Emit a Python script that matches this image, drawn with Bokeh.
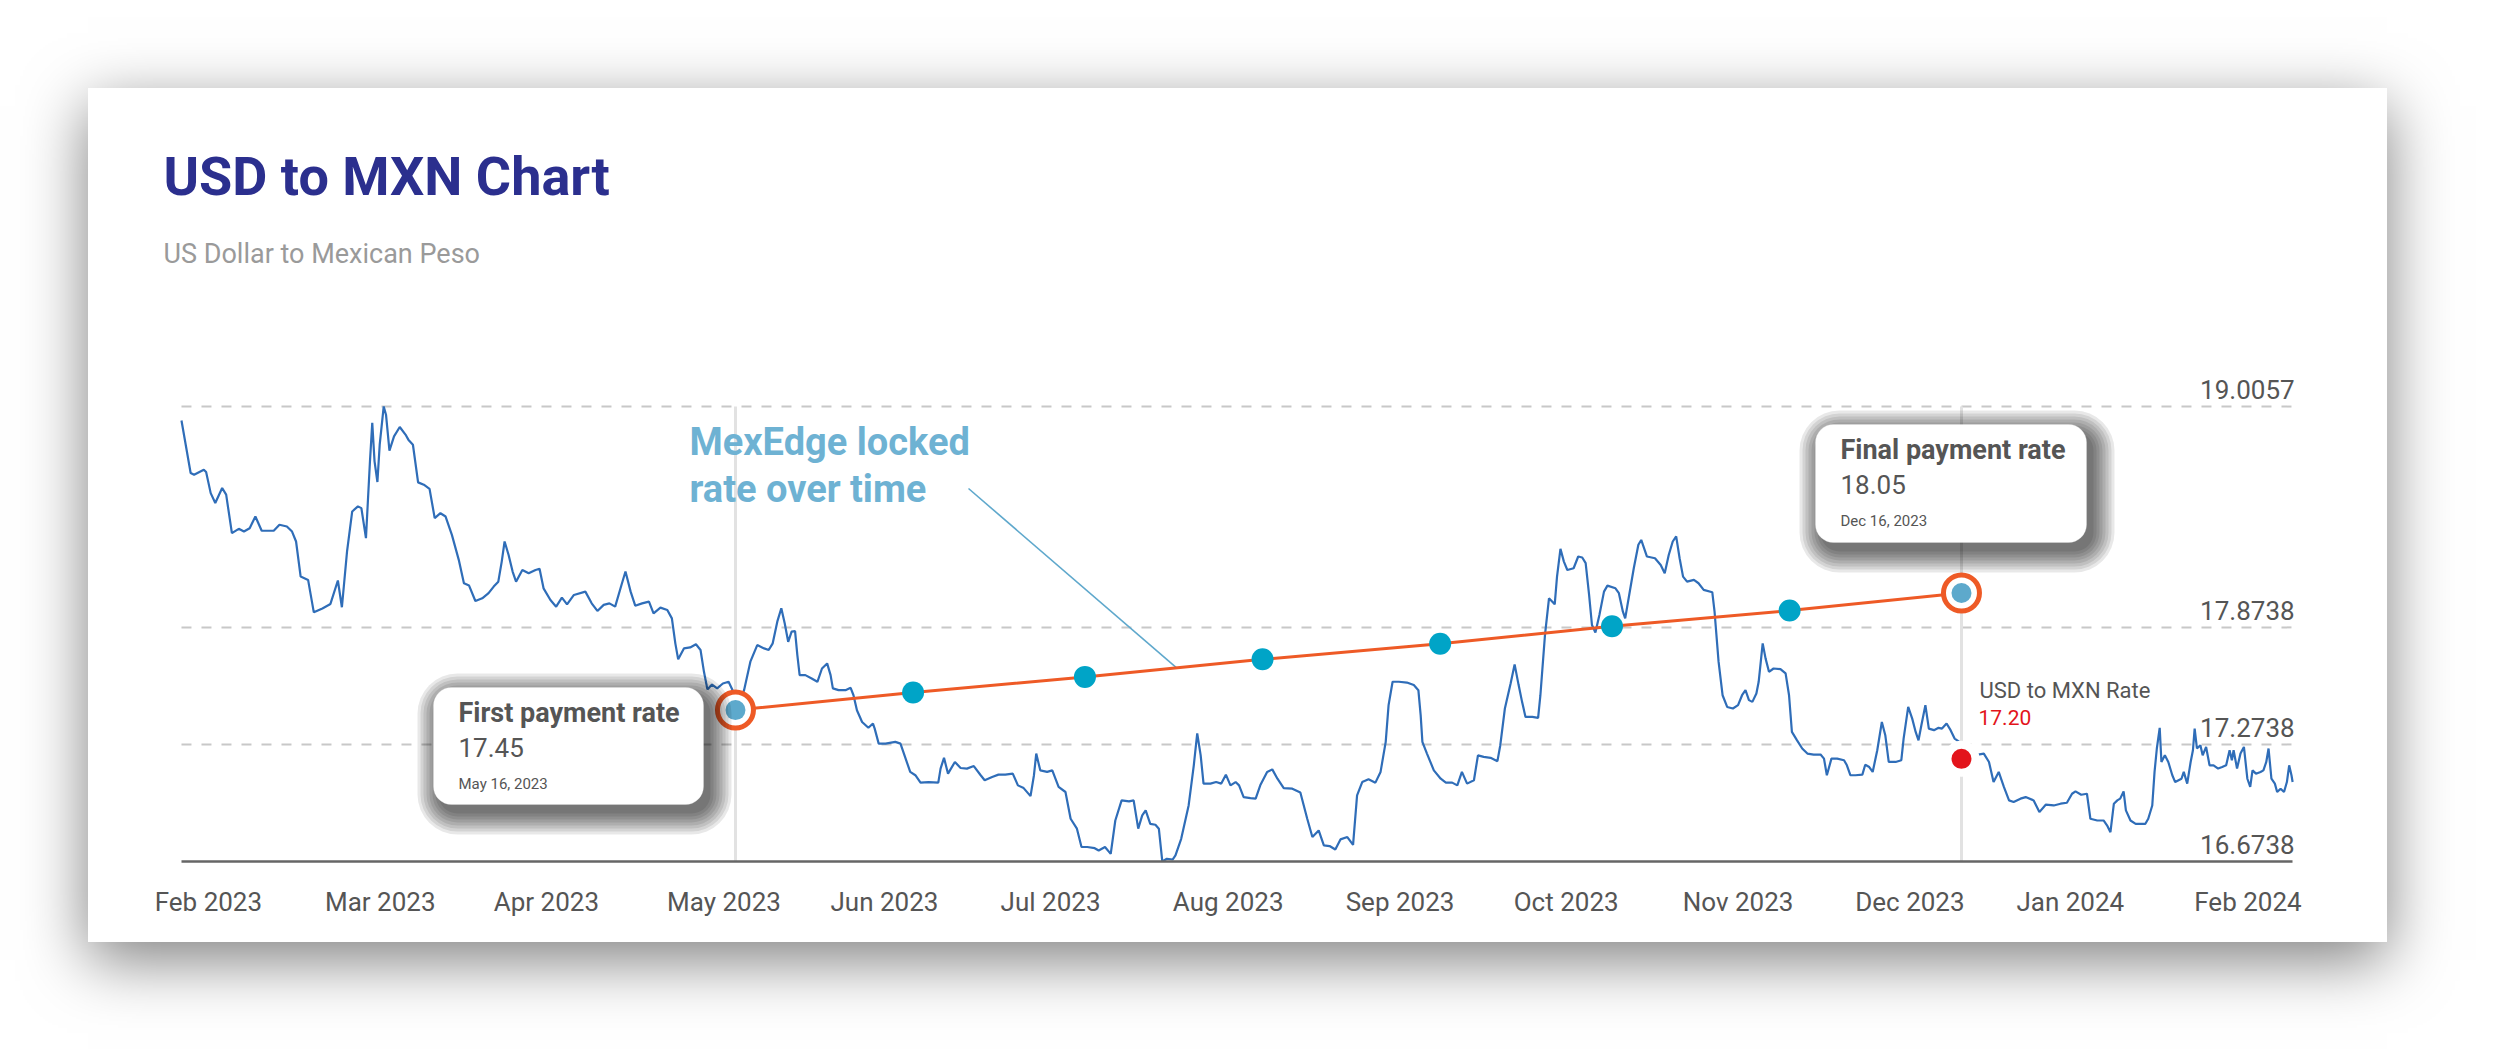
import numpy as np
from bokeh.plotting import figure
from bokeh.models import Range1d, FixedTicker, BoxAnnotation, Label
from bokeh.core.properties import value
from bokeh.embed import file_html
from bokeh.resources import INLINE

# ---------------- data (days counted from 2023-02-01) ----------------
days = [7.3, 8.9, 9.5, 11.2, 11.6, 12.4, 13.2, 14.4, 15.1, 16.1, 17.3, 18.2, 19.2, 20.2, 21.3, 23.4,
        24.4, 25.7, 26.6, 27.3, 28.1, 29.4, 30.4, 31.9, 33.3, 34.6, 35.3, 36.2, 37.1, 38.1, 38.7, 39.5,
        40.2, 40.6, 41.0, 41.5, 41.9, 42.6, 43.0, 43.6, 44.4, 45.4, 46.4, 46.9, 47.7, 48.6, 49.6, 50.6,
        51.5, 52.5, 53.4, 54.5, 55.7, 56.6, 57.5, 58.6, 59.8, 60.9, 61.8, 62.6, 63.2, 63.7, 64.4, 65.1,
        65.7, 66.8, 67.9,
        69.1, 69.8, 70.5, 71.7, 72.7, 73.7, 74.6, 75.8, 77.8, 78.9, 79.9, 81.0, 82.0, 83.0, 84.1, 84.8,
        85.7, 86.5, 87.7, 88.9, 89.7, 90.9, 92.1, 92.9, 93.5, 94.0, 95.0, 96.1, 97.1, 97.9, 98.5, 99.1,
        99.9, 100.8, 101.8, 102.8, 103.5, 104.6, 105.5, 106.6, 107.8, 109.0, 109.8, 110.5, 111.3, 112.0,
        112.6, 113.2, 113.8, 114.4, 114.8, 115.2, 116.2, 117.3, 118.3, 119.1, 120.0, 120.6, 121.0, 122.0,
        123.2, 124.1, 124.6, 125.2, 126.1, 127.2, 128.0, 128.3, 129.0, 130.2,
        131.9, 132.8, 133.7, 134.5, 135.4, 136.3, 137.7, 139.4, 139.8, 140.4, 141.1, 142.3, 143.3, 144.4,
        145.6, 146.8, 147.5, 148.8, 149.9, 151.1, 152.4, 153.3, 154.3, 155.5, 156.1, 156.5, 157.2, 158.4,
        159.3, 160.4, 161.6, 162.5, 163.6, 164.4, 165.4, 166.7, 167.4, 168.5, 169.5, 170.3, 171.4, 172.7,
        173.5, 174.3, 175.0, 175.6, 176.4, 177.3, 177.9, 178.5, 179.3, 180.3, 180.8, 181.8, 183.1, 184.0,
        184.6, 185.2, 185.7, 186.9, 187.9, 188.8, 189.6, 190.4, 191.3, 191.9, 192.7, 193.9,
        194.8, 195.6, 196.8, 197.7, 198.6, 199.7, 201.2, 202.6, 203.8, 204.7, 205.8, 206.7, 207.7, 208.7,
        209.6, 210.8, 211.8, 212.5, 213.4, 214.5, 215.7, 216.6, 217.5, 218.0, 218.7, 219.8, 221.2, 222.4,
        223.2, 223.6, 223.9, 224.7, 225.9, 227.1, 228.0, 229.1, 230.0, 230.8, 231.7, 232.9, 233.6, 234.6,
        235.8, 237.0, 237.5, 238.3, 239.3, 240.0, 240.7, 241.3, 241.9, 243.1, 244.1, 244.5, 245.3, 246.0,
        247.0, 247.4, 248.0, 248.6, 249.2, 250.3, 251.1, 251.8, 252.4, 253.0, 253.5, 254.1, 254.8, 255.6,
        256.2,
        257.6, 258.2, 258.9, 259.3, 260.0, 260.8, 261.6, 262.1, 263.1, 264.5, 265.5, 266.2, 266.9, 267.6,
        268.2, 268.8, 269.4, 270.1, 271.3, 272.1, 273.0, 274.5, 274.9, 275.6, 276.3, 277.1, 278.1, 279.0,
        279.7, 280.3, 280.9, 281.5, 282.2, 282.6, 283.3, 283.8, 284.4, 285.2, 286.4, 287.3, 287.9, 288.4,
        289.3, 290.2, 291.1, 292.2, 293.4, 294.0, 294.5, 295.3, 296.3, 297.5, 298.0, 298.6, 299.5, 300.7,
        301.2, 301.9, 302.5, 303.3, 304.1, 304.7, 305.3, 306.5, 307.5, 307.9, 308.7, 309.4, 310.0, 310.5,
        311.0, 311.7, 312.3, 313.2, 314.0, 314.6, 315.4, 316.1, 316.8,
        320.9, 321.9, 322.8, 323.6, 324.5, 325.4, 326.3, 327.1, 328.3, 329.2, 330.6, 331.6, 332.7, 334.1,
        335.3, 336.4, 337.3, 337.9, 338.9, 339.9, 340.5, 341.7, 342.8, 343.4, 344.0, 344.6, 345.2, 345.7,
        346.3, 346.7, 347.5, 348.4, 349.2, 350.1, 350.6, 351.3, 351.7, 352.1, 352.6, 352.9, 353.5, 354.1,
        354.8, 355.3, 356.4, 356.8, 357.4, 358.0, 358.4, 358.7, 359.1, 359.7, 360.1, 360.7, 361.3, 362.0,
        362.8, 363.5, 364.2, 364.8, 365.2, 365.5, 366.1, 366.7, 367.3, 367.9, 368.4, 368.8, 369.4, 370.2,
        370.7, 371.2, 371.6, 372.1, 372.7, 373.1, 373.7, 374.3, 374.8, 375.2, 375.6, 375.8]

rates = [18.934, 18.665, 18.656, 18.682, 18.670, 18.562, 18.511, 18.588, 18.554, 18.357, 18.379, 18.365,
         18.382, 18.442, 18.369, 18.369, 18.400, 18.391, 18.365, 18.314, 18.134, 18.117, 17.951, 17.971,
         17.994, 18.114, 17.977, 18.263, 18.468, 18.494, 18.485, 18.331, 18.725, 18.922, 18.725, 18.619,
         18.810, 19.006, 18.964, 18.780, 18.853, 18.901, 18.862, 18.836, 18.810, 18.617, 18.605, 18.584,
         18.434, 18.459, 18.442, 18.348, 18.220, 18.100, 18.088, 18.009, 18.023, 18.049, 18.083, 18.108,
         18.211, 18.314, 18.245, 18.160, 18.108, 18.168, 18.151,
         18.168, 18.174, 18.074, 18.014, 17.980, 18.026, 17.992, 18.040, 18.057, 17.997, 17.958, 17.989,
         17.997, 17.980, 18.091, 18.160, 18.057, 17.985, 17.997, 18.006, 17.946, 17.975, 17.963, 17.920,
         17.792, 17.710, 17.766, 17.771, 17.787, 17.758, 17.646, 17.556, 17.581, 17.561, 17.586, 17.595,
         17.552, 17.475, 17.552, 17.698, 17.783, 17.766, 17.758, 17.792, 17.903, 17.972, 17.894, 17.800,
         17.852, 17.855, 17.732, 17.629, 17.629, 17.612, 17.595, 17.663, 17.689, 17.629, 17.561, 17.552,
         17.552, 17.564, 17.526, 17.449, 17.389, 17.359, 17.381, 17.355, 17.278, 17.278,
         17.287, 17.278, 17.201, 17.133, 17.116, 17.078, 17.081, 17.078, 17.150, 17.205, 17.124, 17.184,
         17.153, 17.150, 17.163, 17.116, 17.090, 17.107, 17.119, 17.119, 17.124, 17.064, 17.050, 17.009,
         17.116, 17.227, 17.141, 17.133, 17.141, 17.056, 17.030, 16.893, 16.842, 16.748, 16.748, 16.742,
         16.730, 16.748, 16.713, 16.884, 16.987, 16.982, 16.987, 16.842, 16.910, 16.936, 16.867, 16.862,
         16.842, 16.674, 16.688, 16.684, 16.705, 16.790, 16.961, 17.167, 17.330, 17.218, 17.073, 17.073,
         17.081, 17.073, 17.119, 17.064, 17.081, 17.064, 17.004, 16.999,
         16.996, 17.064, 17.133, 17.146, 17.098, 17.050, 17.047, 17.027, 16.893, 16.799, 16.833, 16.756,
         16.753, 16.735, 16.787, 16.799, 16.759, 17.013, 17.081, 17.095, 17.078, 17.133, 17.287, 17.475,
         17.595, 17.595, 17.591, 17.578, 17.552, 17.424, 17.287, 17.227, 17.141, 17.098, 17.078, 17.078,
         17.064, 17.133, 17.073, 17.090, 17.218, 17.210, 17.205, 17.188, 17.270, 17.458, 17.586, 17.684,
         17.578, 17.492, 17.415, 17.415, 17.410, 17.526, 17.835, 18.023, 17.992, 18.134, 18.276, 18.211,
         18.168, 18.177, 18.237, 18.232, 18.203, 18.040, 17.886, 17.848, 17.937, 18.057, 18.088,
         18.074, 18.049, 17.954, 17.920, 18.040, 18.177, 18.297, 18.322, 18.237, 18.228, 18.194, 18.151,
         18.245, 18.314, 18.340, 18.228, 18.134, 18.108, 18.117, 18.100, 18.066, 18.054, 17.954, 17.698,
         17.526, 17.466, 17.458, 17.475, 17.526, 17.552, 17.501, 17.492, 17.535, 17.595, 17.792, 17.715,
         17.646, 17.663, 17.660, 17.638, 17.526, 17.338, 17.295, 17.253, 17.227, 17.222, 17.222, 17.201,
         17.116, 17.201, 17.201, 17.193, 17.167, 17.116, 17.116, 17.119, 17.170, 17.158, 17.133, 17.244,
         17.389, 17.321, 17.184, 17.184, 17.193, 17.304, 17.466, 17.406, 17.338, 17.295, 17.372, 17.475,
         17.355, 17.347, 17.359, 17.355, 17.381, 17.347, 17.304,
         17.222, 17.227, 17.184, 17.081, 17.133, 17.056, 16.987, 16.979, 16.996, 17.004, 16.987, 16.927,
         16.965, 16.961, 16.970, 16.975, 17.021, 17.033, 17.016, 17.021, 16.893, 16.884, 16.884, 16.859,
         16.824, 16.970, 16.987, 16.996, 17.033, 16.936, 16.884, 16.867, 16.867, 16.867, 16.893, 16.961,
         17.133, 17.253, 17.359, 17.184, 17.218, 17.184, 17.116, 17.081, 17.098, 17.133, 17.073, 17.184,
         17.244, 17.355, 17.253, 17.270, 17.218, 17.261, 17.167, 17.167, 17.150, 17.158, 17.167, 17.244,
         17.193, 17.244, 17.150, 17.227, 17.261, 17.098, 17.056, 17.141, 17.124, 17.133, 17.141, 17.184,
         17.253, 17.098, 17.073, 17.030, 17.047, 17.030, 17.081, 17.167, 17.116, 17.081]

month_ticks = [12, 42, 71, 102, 130, 159, 190, 220, 249, 279, 309, 337, 368]
month_labels = ["Feb 2023", "Mar 2023", "Apr 2023", "May 2023", "Jun 2023", "Jul 2023", "Aug 2023",
                "Sep 2023", "Oct 2023", "Nov 2023", "Dec 2023", "Jan 2024", "Feb 2024"]
y_levels = [16.6738, 17.2738, 17.8738, 19.0057]

pay_days = [104, 135, 165, 196, 227, 257, 288, 318]
locked_rates = [17.45, 17.54, 17.62, 17.71, 17.79, 17.88, 17.96, 18.05]
first_label = ["First payment rate", "17.45", "May 16, 2023"]
final_label = ["Final payment rate", "18.05", "Dec 16, 2023"]
current_day = 318
current_rate = 17.20
current_label = ["USD to MXN Rate", "17.20"]

title_text = "USD to MXN Chart"
subtitle_text = "US Dollar to Mexican Peso"
note_lines = ["MexEdge locked", "rate over time"]

# ---------------- geometry / styles ----------------
CARD_W, CARD_H, FRAME_H = 2299, 854, 773
PX_X, PX_Y = 5.729, 195.1
X0 = -8.93
X1 = X0 + CARD_W / PX_X
Y0 = y_levels[0]
Y1 = Y0 + FRAME_H / PX_Y
LIFT = 0.36  # baseline correction (em)


def dpt(cx, cy):
    """card pixel position -> data coords"""
    return X0 + cx / PX_X, Y1 - cy / PX_Y


FONT = "Roboto"
GREY = "#555555"

p = figure(width=CARD_W, height=CARD_H, x_range=Range1d(X0, X1), y_range=Range1d(Y0, Y1),
           output_backend="svg", toolbar_location=None, y_axis_location=None,
           min_border=0, min_border_bottom=81, outline_line_color=None,
           background_fill_color="white", border_fill_color="white")
p.margin = (88, 0, 0, 88)
p.styles = {"box-shadow": "0px 18px 60px rgba(0,0,0,0.5)"}
p.grid.visible = False

ax = p.xaxis[0]
ax.ticker = FixedTicker(ticks=month_ticks)
ax.major_label_overrides = {t: l for t, l in zip(month_ticks, month_labels)}
ax.bounds = (days[0], days[-1])
ax.axis_line_color = "#666666"
ax.axis_line_width = 2.5
ax.major_tick_line_color = None
ax.minor_tick_line_color = None
ax.major_label_standoff = 19
ax.major_label_text_font = FONT
ax.major_label_text_font_size = "26px"
ax.major_label_text_color = GREY

# dashed horizontal guide lines
upper = y_levels[1:]
p.segment(x0=[days[0]] * len(upper), x1=[days[-1]] * len(upper), y0=upper, y1=upper,
          line_color="#c8c8c8", line_width=2, line_dash="10 10")

# vertical guides at first / final payment
p.segment(x0=[pay_days[0], pay_days[-1]], x1=[pay_days[0], pay_days[-1]],
          y0=[y_levels[0]] * 2, y1=[y_levels[-1]] * 2, line_color="#e2e2e2", line_width=3)

# y level labels
p.text(x=[days[-1]] * len(y_levels), y=y_levels, text=[f"{v:.4f}" for v in y_levels],
       text_align="right", text_baseline="alphabetic", x_offset=2, y_offset=-17,
       text_font=value(FONT), text_font_size="26px", text_color=GREY)

# rate line
p.line(days, rates, line_color="#2F6DB8", line_width=2.2)

# leader line of note
lx0, ly0 = dpt(880, 400)
lead_day = 181
p.segment(x0=[lx0], y0=[ly0], x1=[lead_day], y1=[float(np.interp(lead_day, pay_days, locked_rates))],
          line_color="#5FA8CC", line_width=1.6)

# locked rate line and monthly points
p.line(pay_days, locked_rates, line_color="#EE5A26", line_width=3)
p.scatter(pay_days[1:-1], locked_rates[1:-1], size=22, fill_color="#00A4C7", line_color=None)
ends_x = [pay_days[0], pay_days[-1]]
ends_y = [locked_rates[0], locked_rates[-1]]
p.scatter(ends_x, ends_y, size=36, fill_color="white", line_color="#EE5A26", line_width=5)
p.scatter(ends_x, ends_y, size=20, fill_color="#5DA9CC", line_color=None)

# current rate dot
p.scatter([current_day], [current_rate], size=28, fill_color="#E3141B", line_color="white", line_width=8)


def text_at(cx, cy, txt, size, color, style="normal"):
    x, y = dpt(cx, cy - LIFT * size)
    p.text(x=[x], y=[y], text=[txt], text_baseline="alphabetic", text_font=value(FONT),
           text_font_size=f"{size}px", text_font_style=style, text_color=color)


text_at(1891, 610, current_label[0], 22, GREY)
text_at(1890, 637, current_label[1], 21, "#E3141B")

# title / subtitle / note
text_at(75, 107, title_text, 54, "#2B2F8E", "bold")
text_at(75, 175, subtitle_text, 27, "#9a9a9a")
for i, line in enumerate(note_lines):
    text_at(601, 367 + 47 * i, line, 38, "#6EB2D3", "bold")


def tooltip(l, t, r, b, lines):
    for e in [22, 19, 16, 13, 10, 7, 4, 1]:
        L, T = dpt(l - e + 6, t - e + 8)
        R, B = dpt(r + e + 6, b + e + 8)
        p.add_layout(BoxAnnotation(left=L, right=R, top=T, bottom=B, fill_color="black",
                                   fill_alpha=0.09, line_color=None, border_radius=18 + e))
    L, T = dpt(l, t)
    R, B = dpt(r, b)
    p.add_layout(BoxAnnotation(left=L, right=R, top=T, bottom=B, fill_color="white", fill_alpha=1.0,
                               line_color="#e8e8e8", line_width=1, border_radius=18))
    specs = [(35, 27, "bold"), (69, 26, "normal"), (102, 15, "normal")]
    for txt, (off, size, style) in zip(lines, specs):
        x, y = dpt(l + 25, t + off - LIFT * size)
        p.add_layout(Label(x=x, y=y, text=txt, text_font=FONT, text_font_size=f"{size}px",
                           text_font_style=style, text_color=GREY,
                           text_align="left", text_baseline="alphabetic"))


tooltip(345, 599, 615, 716, first_label)
tooltip(1727, 336, 1998, 454, final_label)

open("out.html", "w").write(file_html(p, INLINE))
